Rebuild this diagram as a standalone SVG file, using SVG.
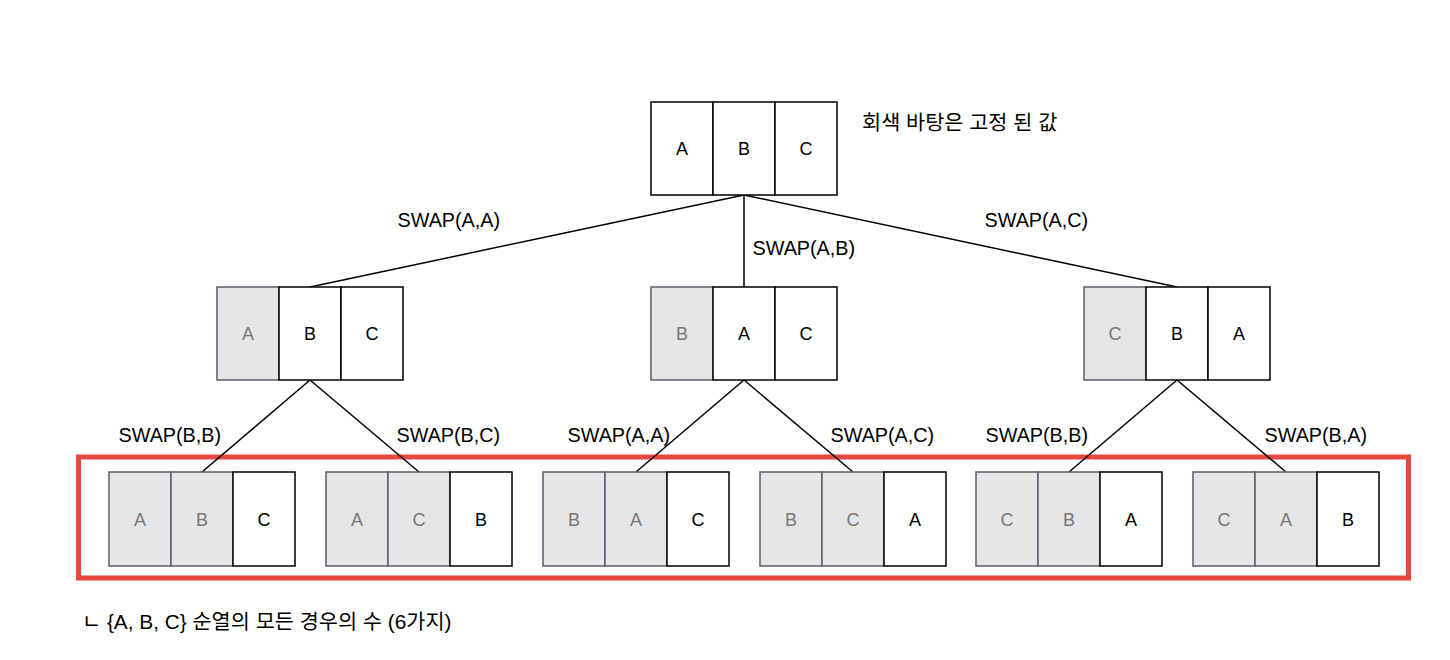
<svg xmlns="http://www.w3.org/2000/svg" width="1450" height="660" viewBox="0 0 1450 660">
<style>
.w{fill:#ffffff;stroke:#000000;stroke-width:1.5}
.g{fill:#e6e6e6;stroke:#5c5b6e;stroke-width:1.5}
.t{font-family:"Liberation Sans",Arial,sans-serif;font-size:18px;text-anchor:middle;fill:#000}
.tg{font-family:"Liberation Sans",Arial,sans-serif;font-size:18px;text-anchor:middle;fill:#777777}
.lbl{font-family:"Liberation Sans",Arial,sans-serif;font-size:19.8px;fill:#000}
.kr{font-family:"Liberation Sans","Noto Sans CJK KR",sans-serif;font-size:20.8px;fill:#000}
.ln{stroke:#000;stroke-width:1.5;fill:none}
</style>
<rect width="1450" height="660" fill="#ffffff"/>
<g id="highlight">
<rect x="78.5" y="457" width="1330" height="121" fill="none" stroke="#e8483f" stroke-width="5"/>
</g>
<g id="connectors">
<line class="ln" x1="744" y1="195" x2="310" y2="287"/>
<line class="ln" x1="744" y1="195" x2="744" y2="287"/>
<line class="ln" x1="744" y1="195" x2="1177" y2="287"/>
<line class="ln" x1="310" y1="380" x2="202" y2="472"/>
<line class="ln" x1="310" y1="380" x2="419" y2="472"/>
<line class="ln" x1="744" y1="380" x2="636" y2="472"/>
<line class="ln" x1="744" y1="380" x2="853" y2="472"/>
<line class="ln" x1="1177" y1="380" x2="1069" y2="472"/>
<line class="ln" x1="1177" y1="380" x2="1286" y2="472"/>
</g>
<g id="edge-labels">
<text class="lbl" x="397.5" y="226.5">SWAP(A,A)</text>
<text class="lbl" x="752.5" y="255">SWAP(A,B)</text>
<text class="lbl" x="984.5" y="226.5">SWAP(A,C)</text>
<text class="lbl" x="118.5" y="442">SWAP(B,B)</text>
<text class="lbl" x="396.5" y="442">SWAP(B,C)</text>
<text class="lbl" x="567.5" y="442">SWAP(A,A)</text>
<text class="lbl" x="830.5" y="442">SWAP(A,C)</text>
<text class="lbl" x="985.5" y="442">SWAP(B,B)</text>
<text class="lbl" x="1264.5" y="442">SWAP(B,A)</text>
</g>
<g id="root">
<rect class="w" x="651" y="102" width="62" height="93"/>
<rect class="w" x="713" y="102" width="62" height="93"/>
<rect class="w" x="775" y="102" width="62" height="93"/>
<text class="t" x="682" y="154.5">A</text>
<text class="t" x="744" y="154.5">B</text>
<text class="t" x="806" y="154.5">C</text>
</g>
<g id="l2-1">
<rect class="g" x="217" y="287" width="62" height="93"/>
<rect class="w" x="279" y="287" width="62" height="93"/>
<rect class="w" x="341" y="287" width="62" height="93"/>
<text class="tg" x="248" y="340">A</text>
<text class="t" x="310" y="340">B</text>
<text class="t" x="372" y="340">C</text>
</g>
<g id="l2-2">
<rect class="g" x="651" y="287" width="62" height="93"/>
<rect class="w" x="713" y="287" width="62" height="93"/>
<rect class="w" x="775" y="287" width="62" height="93"/>
<text class="tg" x="682" y="340">B</text>
<text class="t" x="744" y="340">A</text>
<text class="t" x="806" y="340">C</text>
</g>
<g id="l2-3">
<rect class="g" x="1084" y="287" width="62" height="93"/>
<rect class="w" x="1146" y="287" width="62" height="93"/>
<rect class="w" x="1208" y="287" width="62" height="93"/>
<text class="tg" x="1115" y="340">C</text>
<text class="t" x="1177" y="340">B</text>
<text class="t" x="1239" y="340">A</text>
</g>
<g id="l3-1">
<rect class="g" x="109" y="472" width="62" height="94"/>
<rect class="g" x="171" y="472" width="62" height="94"/>
<rect class="w" x="233" y="472" width="62" height="94"/>
<text class="tg" x="140" y="525.5">A</text>
<text class="tg" x="202" y="525.5">B</text>
<text class="t" x="264" y="525.5">C</text>
</g>
<g id="l3-2">
<rect class="g" x="326" y="472" width="62" height="94"/>
<rect class="g" x="388" y="472" width="62" height="94"/>
<rect class="w" x="450" y="472" width="62" height="94"/>
<text class="tg" x="357" y="525.5">A</text>
<text class="tg" x="419" y="525.5">C</text>
<text class="t" x="481" y="525.5">B</text>
</g>
<g id="l3-3">
<rect class="g" x="543" y="472" width="62" height="94"/>
<rect class="g" x="605" y="472" width="62" height="94"/>
<rect class="w" x="667" y="472" width="62" height="94"/>
<text class="tg" x="574" y="525.5">B</text>
<text class="tg" x="636" y="525.5">A</text>
<text class="t" x="698" y="525.5">C</text>
</g>
<g id="l3-4">
<rect class="g" x="760" y="472" width="62" height="94"/>
<rect class="g" x="822" y="472" width="62" height="94"/>
<rect class="w" x="884" y="472" width="62" height="94"/>
<text class="tg" x="791" y="525.5">B</text>
<text class="tg" x="853" y="525.5">C</text>
<text class="t" x="915" y="525.5">A</text>
</g>
<g id="l3-5">
<rect class="g" x="976" y="472" width="62" height="94"/>
<rect class="g" x="1038" y="472" width="62" height="94"/>
<rect class="w" x="1100" y="472" width="62" height="94"/>
<text class="tg" x="1007" y="525.5">C</text>
<text class="tg" x="1069" y="525.5">B</text>
<text class="t" x="1131" y="525.5">A</text>
</g>
<g id="l3-6">
<rect class="g" x="1193" y="472" width="62" height="94"/>
<rect class="g" x="1255" y="472" width="62" height="94"/>
<rect class="w" x="1317" y="472" width="62" height="94"/>
<text class="tg" x="1224" y="525.5">C</text>
<text class="tg" x="1286" y="525.5">A</text>
<text class="t" x="1348" y="525.5">B</text>
</g>
<g id="legend">
<text class="kr" x="862" y="130">회색 바탕은 고정 된 값</text>
</g>
<g id="footer">
<text class="kr" x="82" y="629">ㄴ {A, B, C} 순열의 모든 경우의 수 (6가지)</text>
</g>
</svg>
